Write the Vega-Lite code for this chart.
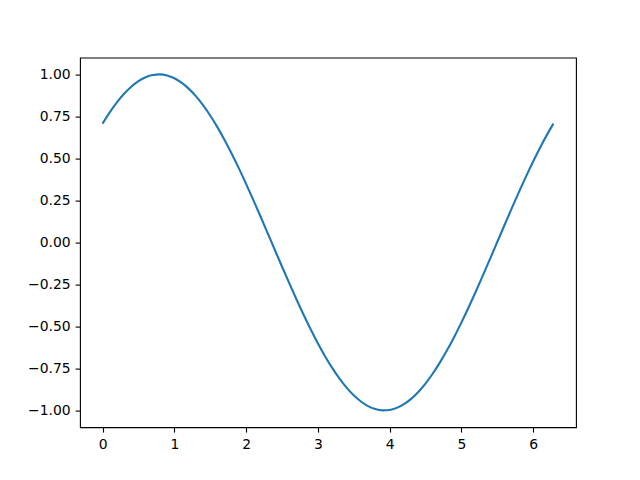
{
  "$schema": "https://vega.github.io/schema/vega-lite/v6.json",
  "width": 496,
  "height": 369.6,
  "autosize": {"type": "none"},
  "padding": {"left": 80, "top": 57.6, "right": 64, "bottom": 52.8},
  "background": "white",
  "config": {
    "view": {"stroke": "black", "strokeWidth": 1.1},
    "axis": {
      "grid": false,
      "domain": false,
      "tickColor": "black",
      "tickSize": 4.9,
      "tickWidth": 1.1,
      "labelFont": "DejaVu Sans",
      "labelFontSize": 13.9,
      "labelColor": "black",
      "labelPadding": 4.9,
      "title": null
    }
  },
  "data": {
    "values": [
      {"x": 0.0, "y": 0.70711}, {"x": 0.1, "y": 0.77417}, {"x": 0.2, "y": 0.8335},
      {"x": 0.3, "y": 0.8845}, {"x": 0.4, "y": 0.92665}, {"x": 0.5, "y": 0.95956},
      {"x": 0.6, "y": 0.98287}, {"x": 0.7, "y": 0.99636}, {"x": 0.8, "y": 0.9999},
      {"x": 0.9, "y": 0.99344}, {"x": 1.0, "y": 0.97706}, {"x": 1.1, "y": 0.95093},
      {"x": 1.2, "y": 0.91528}, {"x": 1.3, "y": 0.87049}, {"x": 1.4, "y": 0.81701},
      {"x": 1.5, "y": 0.75536}, {"x": 1.6, "y": 0.68616}, {"x": 1.7, "y": 0.61011},
      {"x": 1.8, "y": 0.52797}, {"x": 1.9, "y": 0.44054}, {"x": 2.0, "y": 0.34871},
      {"x": 2.1, "y": 0.2534}, {"x": 2.2, "y": 0.15557}, {"x": 2.3, "y": 0.05617},
      {"x": 2.4, "y": -0.04379}, {"x": 2.5, "y": -0.14331}, {"x": 2.6, "y": -0.2414},
      {"x": 2.7, "y": -0.33707}, {"x": 2.8, "y": -0.42938}, {"x": 2.9, "y": -0.5174},
      {"x": 3.0, "y": -0.60024}, {"x": 3.1, "y": -0.6771}, {"x": 3.2, "y": -0.74717},
      {"x": 3.3, "y": -0.8098}, {"x": 3.4, "y": -0.86433}, {"x": 3.5, "y": -0.91022},
      {"x": 3.6, "y": -0.94702}, {"x": 3.7, "y": -0.97436}, {"x": 3.8, "y": -0.99196},
      {"x": 3.9, "y": -0.99965}, {"x": 4.0, "y": -0.99734}, {"x": 4.1, "y": -0.98508},
      {"x": 4.2, "y": -0.96297}, {"x": 4.3, "y": -0.93124}, {"x": 4.4, "y": -0.8902},
      {"x": 4.5, "y": -0.84028}, {"x": 4.6, "y": -0.78195}, {"x": 4.7, "y": -0.71582},
      {"x": 4.8, "y": -0.64253}, {"x": 4.9, "y": -0.56282}, {"x": 5.0, "y": -0.47748},
      {"x": 5.1, "y": -0.38737}, {"x": 5.2, "y": -0.2934}, {"x": 5.3, "y": -0.19651},
      {"x": 5.4, "y": -0.09763}, {"x": 5.5, "y": 0.00221}, {"x": 5.6, "y": 0.10204},
      {"x": 5.7, "y": 0.20083}, {"x": 5.8, "y": 0.29764}, {"x": 5.9, "y": 0.39146},
      {"x": 6.0, "y": 0.48137}, {"x": 6.1, "y": 0.56647}, {"x": 6.2, "y": 0.64591},
      {"x": 6.2832, "y": 0.70711}
    ]
  },
  "mark": {"type": "line", "color": "#1f77b4", "strokeWidth": 2.1, "interpolate": "monotone", "clip": true},
  "encoding": {
    "x": {
      "field": "x",
      "type": "quantitative",
      "scale": {"domain": [-0.3142, 6.5974], "nice": false, "zero": false},
      "axis": {"values": [0, 1, 2, 3, 4, 5, 6], "format": "d"}
    },
    "y": {
      "field": "y",
      "type": "quantitative",
      "scale": {"domain": [-1.1, 1.1], "nice": false, "zero": false},
      "axis": {"values": [-1, -0.75, -0.5, -0.25, 0, 0.25, 0.5, 0.75, 1], "format": ".2f"}
    }
  }
}
